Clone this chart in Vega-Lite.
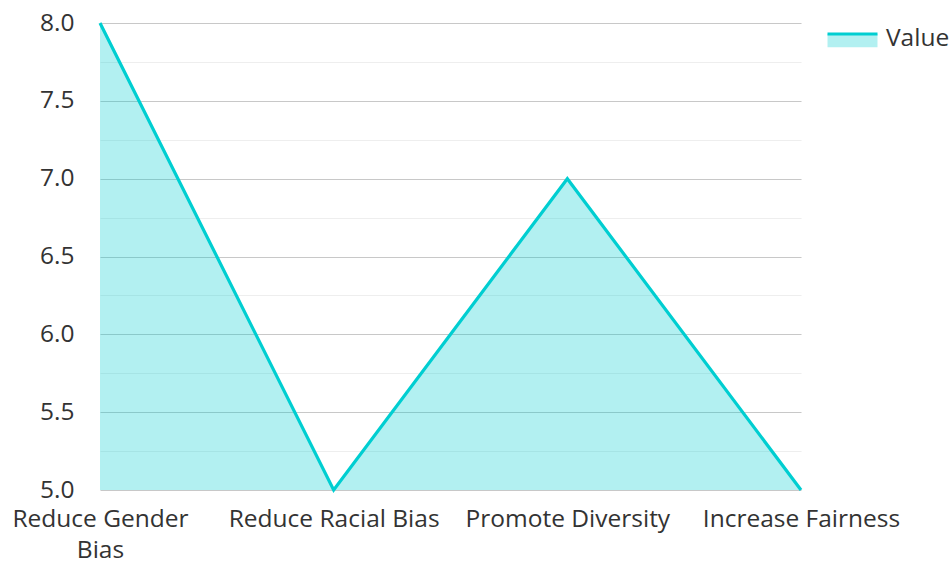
{
  "$schema": "https://vega.github.io/schema/vega-lite/v6.json",
  "width": 701,
  "height": 467,
  "autosize": {"type": "none"},
  "padding": {"left": 100, "top": 23, "right": 150, "bottom": 72},
  "config": {"font": "Open Sans", "view": {"stroke": null}},
  "data": {
    "values": [
      {"category": "Reduce Gender Bias", "value": 8},
      {"category": "Reduce Racial Bias", "value": 5},
      {"category": "Promote Diversity", "value": 7},
      {"category": "Increase Fairness", "value": 5}
    ]
  },
  "encoding": {
    "x": {
      "field": "category",
      "type": "ordinal",
      "sort": null,
      "scale": {"type": "point", "padding": 0},
      "axis": {
        "title": null,
        "labelAngle": 0,
        "domain": false,
        "ticks": false,
        "grid": false,
        "labelPadding": 17,
        "labelFontSize": 24.5,
        "labelColor": "#333333",
        "labelLineHeight": 31,
        "labelOverlap": false,
        "labelFlush": false,
        "labelLimit": 0,
        "labelExpr": "datum.value == 'Reduce Gender Bias' ? ['Reduce Gender', 'Bias'] : datum.value"
      }
    },
    "y": {
      "field": "value",
      "type": "quantitative",
      "scale": {"domain": [5, 8], "nice": false, "zero": false},
      "axis": {
        "title": null,
        "values": [5, 5.25, 5.5, 5.75, 6, 6.25, 6.5, 6.75, 7, 7.25, 7.5, 7.75, 8],
        "labelExpr": "(datum.value * 2) % 1 == 0 ? format(datum.value, '.1f') : ''",
        "domain": false,
        "ticks": false,
        "labelPadding": 26,
        "labelFontSize": 24.5,
        "labelColor": "#333333",
        "gridColor": {"condition": {"test": "(datum.value * 2) % 1 != 0", "value": "#eeeeee"}, "value": "#c8c8c8"},
        "gridWidth": 1.2
      }
    }
  },
  "layer": [
    {
      "mark": {"type": "area", "fillOpacity": 0.3},
      "encoding": {
        "y2": {"datum": 5},
        "fill": {
          "datum": "Value",
          "scale": {"range": ["#00CED1"]},
          "legend": {
            "title": null,
            "orient": "none",
            "legendX": 726,
            "legendY": -9,
            "padding": 0,
            "symbolType": "M-1,-0.265 L1,-0.265 L1,0.265 L-1,0.265 Z",
            "symbolSize": 2500,
            "labelFontSize": 24.5,
            "labelColor": "#333333",
            "labelOffset": 7,
            "encode": {
              "symbols": {
                "update": {
                  "fill": {"value": "#00CED1"},
                  "fillOpacity": {"value": 0.3},
                  "stroke": {"value": "#00CED1"},
                  "strokeOpacity": {"value": 1},
                  "strokeWidth": {"value": 3},
                  "strokeDash": {"value": [50, 1000]},
                  "opacity": {"value": 1}
                }
              },
              "labels": {"update": {"dy": {"value": -2}}}
            }
          }
        }
      }
    },
    {
      "mark": {"type": "line", "color": "#00CED1", "strokeWidth": 3.2}
    }
  ]
}
